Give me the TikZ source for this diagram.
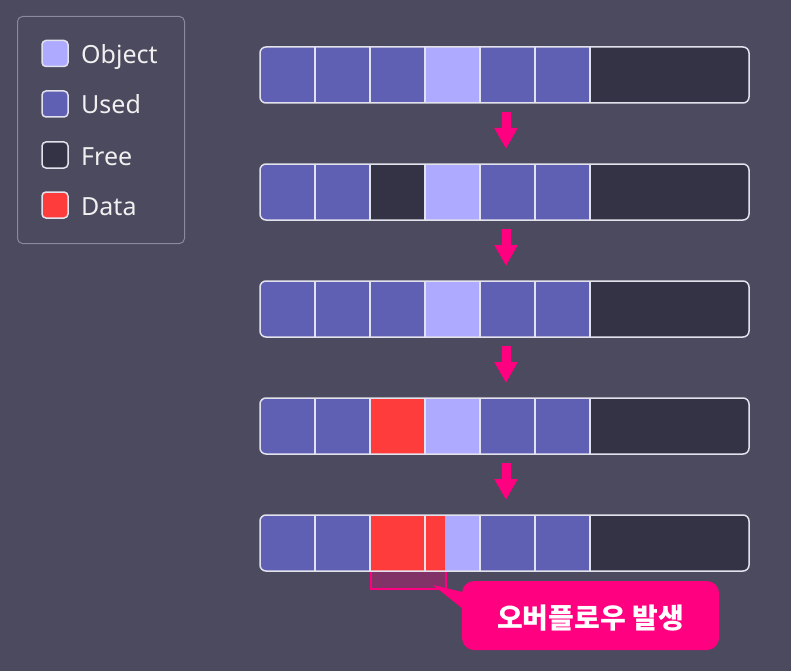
\documentclass[tikz,border=0pt]{standalone}
\usepackage{fontspec}
\setmainfont{Noto Sans CJK KR}
\newfontfamily\legfont{Noto Sans}
\usetikzlibrary{arrows.meta}
\definecolor{bgc}{HTML}{4B4A5E}
\definecolor{usedc}{HTML}{5F5FB4}
\definecolor{objc}{HTML}{ADAAFF}
\definecolor{freec}{HTML}{343346}
\definecolor{datac}{HTML}{FF3C3C}
\definecolor{magc}{HTML}{FF0080}
\definecolor{linec}{HTML}{E2E2EC}
\definecolor{legc}{HTML}{8A8A9C}
\tikzset{
  U/.style={fill=usedc}, O/.style={fill=objc}, F/.style={fill=freec}, D/.style={fill=datac},
  divider/.style={draw=linec, line width=1.5pt},
  barframe/.style={draw=linec, line width=1.5pt, rounded corners=6pt, minimum width=489pt, minimum height=56pt, inner sep=0pt, outer sep=0pt},
  flowarrow/.style={draw=magc, line width=9pt, -{Triangle[width=22pt,length=21pt]}},
  swatch/.style={draw=linec, line width=1.5pt, rounded corners=4pt, minimum width=26pt, minimum height=26pt, inner sep=0pt},
  legtext/.style={anchor=base west, inner sep=0pt, text=white!94!black, font=\legfont\fontsize{25}{30}\selectfont},
}
\newcommand\memrow[3]{%
  \begin{scope}
    \clip[rounded corners=6pt] (260,#2) rectangle (749,#2+56);
    \fill[freec] (260,#2) rectangle (749,#2+56);
    \foreach \c [count=\i from 0] in {#3} \path[\c] (260+55*\i,#2) rectangle ++(55,56);
  \end{scope}
}
\newcommand\memframe[2]{%
  \foreach \i in {1,...,6} \draw[divider] (260+55*\i,#2) -- ++(0,56);
  \node[barframe, anchor=north west] (#1) at (260,#2) {};
}
\begin{document}
\begin{tikzpicture}[x=1pt,y=-1pt]
\fill[bgc] (0,0) rectangle (791,671);
\useasboundingbox (0,0) rectangle (791,671);
% legend
\node[draw=legc, line width=1pt, rounded corners=5pt, anchor=north west, minimum width=167pt, minimum height=227pt, inner sep=0pt] (legend) at (17,16) {};
\node[swatch, fill=objc]  (s1) at (55,53.5) {};
\node[swatch, fill=usedc] (s2) at (55,104) {};
\node[swatch, fill=freec] (s3) at (55,155) {};
\node[swatch, fill=datac] (s4) at (55,205) {};
\node[legtext] (t1) at (81,64) {Object};
\node[legtext] (t2) at (81,114) {Used};
\node[legtext] (t3) at (81,165) {Free};
\node[legtext] (t4) at (81,215.5) {Data};
% overflow marker
\node[draw=magc, line width=2pt, fill=magc, fill opacity=0.3, anchor=north west, minimum width=75pt, minimum height=18pt, inner sep=0pt] (ov) at (370,570) {};
% rows
\memrow{r1}{47}{U,U,U,O,U,U}
\memrow{r2}{164}{U,U,F,O,U,U}
\memrow{r3}{281}{U,U,U,O,U,U}
\memrow{r4}{398}{U,U,D,O,U,U}
\memrow{r5}{515}{U,U,D,O,U,U}
\fill[datac] (425,515) rectangle (445,571);
\memframe{r1}{47}
\memframe{r2}{164}
\memframe{r3}{281}
\memframe{r4}{398}
\memframe{r5}{515}
% arrows
\foreach \a/\b in {r1/r2,r2/r3,r3/r4,r4/r5}
  \draw[flowarrow] ([yshift=-9pt]\a.south -| 506,0) -- ([yshift=15pt]\b.north -| 506,0);
% callout
\node[fill=magc, rounded corners=12pt, minimum width=257pt, minimum height=69pt, inner sep=0pt] (callout) at (590.5,615.5) {};
\node[inner sep=0pt, text=white, font=\bfseries\fontsize{28}{32}\selectfont, anchor=base] (ctext) at (590.5,628) {오버플로우 발생};
\coordinate (ptip) at (433,585);
\fill[magc] (ptip) -- ([xshift=5pt,yshift=22.5pt]callout.west) -- ([xshift=5pt,yshift=3.5pt]callout.west) -- cycle;
\end{tikzpicture}
\end{document}
